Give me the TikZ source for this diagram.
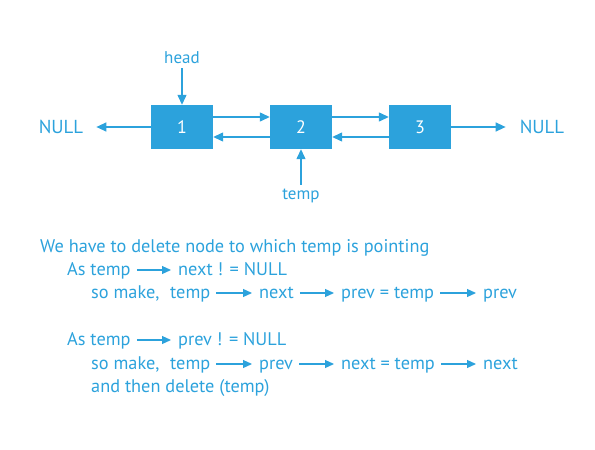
\documentclass[tikz,border=0pt]{standalone}
\usepackage{fontspec}
\setmainfont{PT Sans}
\usetikzlibrary{arrows.meta}
\definecolor{sky}{HTML}{2CA2DC}
\tikzset{
  box/.style={fill=sky, minimum width=62pt, minimum height=44pt, inner sep=0pt, text=white, font=\fontsize{18}{21}\selectfont},
  txt/.style={text=sky, inner sep=0pt, anchor=base west, font=\fontsize{18.3}{21}\selectfont},
  lbl/.style={text=sky, inner sep=0pt, font=\fontsize{17}{20}\selectfont},
  arr/.style={draw=sky, line width=1.3pt, -{Triangle[length=10pt,width=9pt]}},
  tarr/.style={draw=sky, line width=1.2pt, -{Triangle[length=9pt,width=8pt]}, shorten <=6pt, shorten >=7pt}
}
\begin{document}
\begin{tikzpicture}[x=1pt,y=-1pt]
\useasboundingbox (0,0) rectangle (595,450);
% list
\node[box] (b1) at (182,127) {1};
\node[box] (b2) at (301,127) {2};
\node[box] (b3) at (420,127) {3};
\node[txt, anchor=center, font=\fontsize{18.8}{21}\selectfont] (nl) at (61,127) {NULL};
\node[txt, anchor=center, font=\fontsize{18.8}{21}\selectfont] (nr) at (542,127) {NULL};
\node[lbl] (head) at (182,58) {head};
\node[lbl] (temp) at (301,196) {temp};
\draw[arr, shorten >=13pt] (b1.west) -- (nl.east);
\draw[arr, shorten >=14pt] (b3.east) -- (nr.west);
\draw[arr] ([yshift=10pt]b1.east) -- ([yshift=10pt]b2.west);
\draw[arr] ([yshift=-10pt]b2.west) -- ([yshift=-10pt]b1.east);
\draw[arr] ([yshift=10pt]b2.east) -- ([yshift=10pt]b3.west);
\draw[arr] ([yshift=-10pt]b3.west) -- ([yshift=-10pt]b2.east);
\draw[arr, shorten <=4pt] (head.south) -- (b1.north);
\draw[arr, shorten <=4pt] (temp.north) -- (b2.south);
% text
\node[txt] (l1) at (40,252) {We have to delete node to which temp is pointing};
\node[txt] (a1) at (67,275) {As temp};
\node[txt] (a2) at (178,275) {next ! = NULL};
\node[txt] (s1) at (91,298) {so make,};
\node[txt] (s2) at (170,298) {temp};
\node[txt] (s3) at (259,298) {next};
\node[txt] (s4) at (341,298) {prev = temp};
\node[txt] (s5) at (483,298) {prev};
\node[txt] (c1) at (67,345) {As temp};
\node[txt] (c2) at (178,345) {prev ! = NULL};
\node[txt] (d1) at (91,369) {so make,};
\node[txt] (d2) at (170,369) {temp};
\node[txt] (d3) at (259,369) {prev};
\node[txt] (d4) at (341,369) {next = temp};
\node[txt] (d5) at (483,369) {next};
\node[txt] (e1) at (91,392) {and then delete (temp)};
\draw[tarr] ([yshift=5pt]a1.base east) -- ([yshift=5pt]a2.base west);
\draw[tarr] ([yshift=5pt]s2.base east) -- ([yshift=5pt]s3.base west);
\draw[tarr] ([yshift=5pt]s3.base east) -- ([yshift=5pt]s4.base west);
\draw[tarr] ([yshift=5pt]s4.base east) -- ([yshift=5pt]s5.base west);
\draw[tarr] ([yshift=5pt]c1.base east) -- ([yshift=5pt]c2.base west);
\draw[tarr] ([yshift=5pt]d2.base east) -- ([yshift=5pt]d3.base west);
\draw[tarr] ([yshift=5pt]d3.base east) -- ([yshift=5pt]d4.base west);
\draw[tarr] ([yshift=5pt]d4.base east) -- ([yshift=5pt]d5.base west);
\end{tikzpicture}
\end{document}
